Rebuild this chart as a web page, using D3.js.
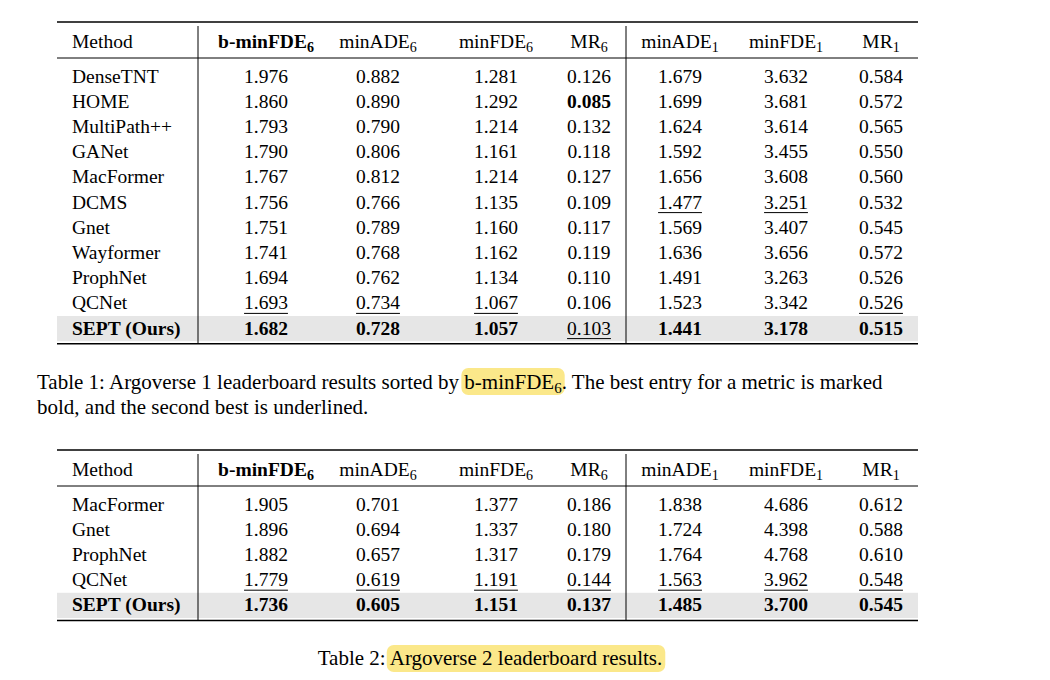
<!DOCTYPE html>
<html><head><meta charset="utf-8">
<script src="https://cdn.jsdelivr.net/npm/d3@7"></script>
<style>body{margin:0;background:#fff}text{font-family:"Liberation Serif","Times New Roman",serif;fill:#000}</style>
</head><body><svg width="1050" height="680"></svg>
<script>
// Column headers: [main, subscript]
const headers = [["Method",""],["b-minFDE","6"],["minADE","6"],["minFDE","6"],["MR","6"],["minADE","1"],["minFDE","1"],["MR","1"]]

// Table 1 (Argoverse 1)
const methods1 = ["DenseTNT","HOME","MultiPath++","GANet","MacFormer","DCMS","Gnet","Wayformer","ProphNet","QCNet","SEPT (Ours)"]
const values1 = [
  ["1.976","0.882","1.281","0.126","1.679","3.632","0.584"],
  ["1.860","0.890","1.292","0.085","1.699","3.681","0.572"],
  ["1.793","0.790","1.214","0.132","1.624","3.614","0.565"],
  ["1.790","0.806","1.161","0.118","1.592","3.455","0.550"],
  ["1.767","0.812","1.214","0.127","1.656","3.608","0.560"],
  ["1.756","0.766","1.135","0.109","1.477","3.251","0.532"],
  ["1.751","0.789","1.160","0.117","1.569","3.407","0.545"],
  ["1.741","0.768","1.162","0.119","1.636","3.656","0.572"],
  ["1.694","0.762","1.134","0.110","1.491","3.263","0.526"],
  ["1.693","0.734","1.067","0.106","1.523","3.342","0.526"],
  ["1.682","0.728","1.057","0.103","1.441","3.178","0.515"]
]
// b = best (bold), u = second best (underline)
const marks1 = [
  "-------","---b---","-------","-------","-------","----uu-","-------","-------","-------","uuu---u","bbbubbb"
]

// Table 2 (Argoverse 2)
const methods2 = ["MacFormer","Gnet","ProphNet","QCNet","SEPT (Ours)"]
const values2 = [
  ["1.905","0.701","1.377","0.186","1.838","4.686","0.612"],
  ["1.896","0.694","1.337","0.180","1.724","4.398","0.588"],
  ["1.882","0.657","1.317","0.179","1.764","4.768","0.610"],
  ["1.779","0.619","1.191","0.144","1.563","3.962","0.548"],
  ["1.736","0.605","1.151","0.137","1.485","3.700","0.545"]
]
const marks2 = ["-------","-------","-------","uuuuuuu","bbbbbbb"]

const colCenters = [266,378,496,589,680,786,881]
const FS = 19.5
const svg = d3.select("svg")
const xc = d3.scaleOrdinal().domain(d3.range(7)).range(colCenters)

function drawTable(top, methods, values, marks) {
  const g = svg.append("g")
  const rowH = 25.2
  const firstRow = top + 41
  const y = d3.scaleBand().domain(d3.range(methods.length))
    .range([firstRow, firstRow + rowH * methods.length])
  const last = methods.length - 1
  const bottom = firstRow + rowH * methods.length + 3.5
  g.append("rect").attr("x", 57).attr("y", y(last) + 1).attr("width", 861).attr("height", rowH).attr("fill", "#e6e6e6")
  g.append("line").attr("x1",57).attr("x2",918).attr("y1",top).attr("y2",top).attr("stroke","#000").attr("stroke-width",1.6)
  g.append("line").attr("x1",57).attr("x2",918).attr("y1",top+36).attr("y2",top+36).attr("stroke","#000").attr("stroke-width",1)
  g.append("line").attr("x1",57).attr("x2",918).attr("y1",bottom).attr("y2",bottom).attr("stroke","#000").attr("stroke-width",1.6)
  ;[198,626].forEach(vx => g.append("line").attr("x1",vx).attr("x2",vx).attr("y1",top+4).attr("y2",bottom).attr("stroke","#000").attr("stroke-width",1))
  headers.forEach((h, i) => {
    const t = g.append("text").attr("y", top + 26).attr("font-size", FS)
      .attr("x", i === 0 ? 72 : xc(i - 1)).attr("text-anchor", i === 0 ? "start" : "middle")
      .attr("font-weight", i === 1 ? "bold" : "normal")
    t.append("tspan").text(h[0])
    if (h[1]) t.append("tspan").attr("font-size", 14).attr("dy", 4).text(h[1])
  })
  methods.forEach((m, r) => {
    const ty = y(r) + rowH / 2 + 7
    g.append("text").attr("x", 72).attr("y", ty).attr("font-size", FS)
      .attr("font-weight", r === last ? "bold" : "normal").text(m)
    values[r].forEach((v, c) => {
      const mk = marks[r][c]
      const t = g.append("text").attr("x", xc(c)).attr("y", ty).attr("text-anchor", "middle").attr("font-size", FS)
        .attr("font-weight", mk === "b" ? "bold" : "normal").text(v)
      if (mk === "u") {
        const w = t.node().getComputedTextLength()
        g.append("line").attr("x1", xc(c) - w/2).attr("x2", xc(c) + w/2).attr("y1", ty + 4).attr("y2", ty + 4).attr("stroke", "#000").attr("stroke-width", 1)
      }
    })
  })
}

drawTable(22, methods1, values1, marks1)
drawTable(450, methods2, values2, marks2)

// captions
const hl = svg.append("g")
const c1 = svg.append("text").attr("x", 37).attr("y", 389).attr("font-size", 21)
c1.append("tspan").text("Table 1: Argoverse 1 leaderboard results sorted by ")
const h1 = c1.append("tspan").text("b-minFDE")
const h1s = c1.append("tspan").attr("font-size", 15).attr("dy", 4).text("6")
c1.append("tspan").attr("dy", -4).text(". The best entry for a metric is marked")
svg.append("text").attr("x", 37).attr("y", 414).attr("font-size", 21).text("bold, and the second best is underlined.")
{
  const n = c1.node()
  const s = n.getStartPositionOfChar(51).x
  const e = n.getEndPositionOfChar(59).x
  hl.append("rect").attr("x", s - 3).attr("y", 368).attr("width", e - s + 6).attr("height", 27).attr("rx", 7).attr("fill", "#fbe88a")
}

const c2 = svg.append("text").attr("x", 490).attr("y", 665).attr("font-size", 21).attr("text-anchor", "middle")
c2.append("tspan").text("Table 2: ")
c2.append("tspan").text("Argoverse 2 leaderboard results.")
{
  const n = c2.node()
  const s = n.getStartPositionOfChar(9).x
  const e = n.getEndPositionOfChar(n.getNumberOfChars() - 1).x
  hl.append("rect").attr("x", s - 3).attr("y", 645).attr("width", e - s + 6).attr("height", 27).attr("rx", 7).attr("fill", "#fbe88a")
}
</script></body></html>
